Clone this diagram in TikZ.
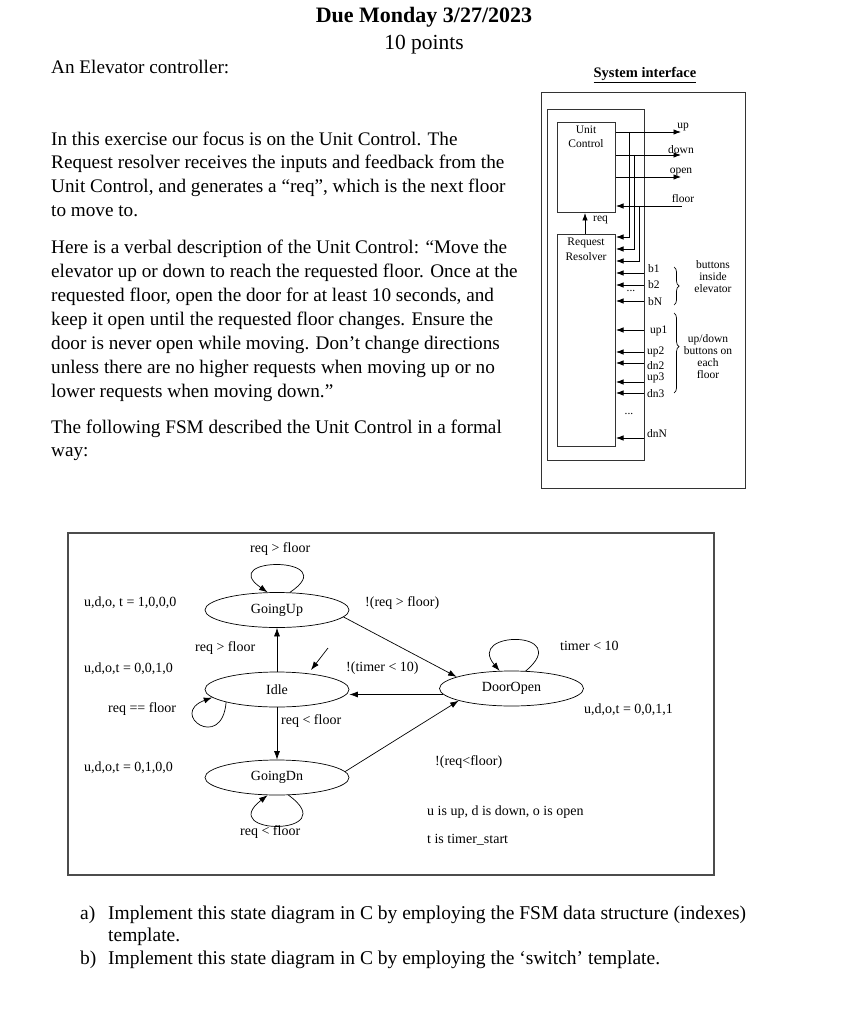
\documentclass[tikz,border=0pt]{standalone}
\usepackage{fontspec}
\setmainfont{Liberation Serif}
\usetikzlibrary{arrows.meta,shapes.geometric,decorations.pathreplacing,calc}
\begin{document}
\begin{tikzpicture}[x=1pt,y=-1pt,
  txt/.style={anchor=base west,inner sep=0pt,font=\fontsize{19.2}{24}\selectfont},
  qtxt/.style={anchor=base west,inner sep=0pt,font=\fontsize{19.5}{24}\selectfont},
  ftxt/.style={anchor=base west,inner sep=0pt,font=\fontsize{14}{16}\selectfont},
  stxt/.style={inner sep=0pt,font=\fontsize{11.5}{12.5}\selectfont},
  state/.style={ellipse,draw,line width=0.7pt,minimum width=144pt,minimum height=35pt,inner sep=0pt,font=\fontsize{14}{16}\selectfont},
  fedge/.style={line width=0.7pt,-{Latex[length=8.5pt,width=6pt]}},
  sedge/.style={line width=0.8pt,-{Latex[length=7.5pt,width=5.5pt]}},
  wire/.style={line width=0.8pt},
  blk/.style={draw=black!80,line width=1pt,inner sep=0pt},
]
\useasboundingbox (0,0) rectangle (854,1024);
\fill[white] (0,0) rectangle (854,1024);

% ---------- header ----------
\node[anchor=base,inner sep=0pt,font=\fontsize{22}{26}\selectfont\bfseries] (due) at (424,23) {Due Monday 3/27/2023};
\node[anchor=base,inner sep=0pt,font=\fontsize{21.5}{26}\selectfont] (pts) at (424,50) {10 points};
\node[txt] (t0) at (51,74) {An Elevator controller:};

\node[txt] (p11) at (51,146) {In this exercise our focus is on the Unit Control. The};
\node[txt] (p12) at (51,169) {Request resolver receives the inputs and feedback from the};
\node[txt] (p13) at (51,193) {Unit Control, and generates a “req”, which is the next floor};
\node[txt] (p14) at (51,217) {to move to.};

\node[txt] (p21) at (51,253) {Here is a verbal description of the Unit Control: “Move the};
\node[txt] (p22) at (51,277) {elevator up or down to reach the requested floor. Once at the};
\node[txt] (p23) at (51,301) {requested floor, open the door for at least 10 seconds, and};
\node[txt] (p24) at (51,325) {keep it open until the requested floor changes. Ensure the};
\node[txt] (p25) at (51,349) {door is never open while moving. Don’t change directions};
\node[txt] (p26) at (51,373) {unless there are no higher requests when moving up or no};
\node[txt] (p27) at (51,397) {lower requests when moving down.”};

\node[txt] (p31) at (51,433) {The following FSM described the Unit Control in a formal};
\node[txt] (p32) at (51,456) {way:};

% ---------- system interface ----------
\node[anchor=center,inner sep=0pt,font=\fontsize{14.5}{16}\selectfont\bfseries] (sit) at (645,75) {\underline{System interface}};
\draw[blk] (541,93) rectangle (745,488);
\draw[blk] (547,110) rectangle (644,460);
\node[blk,draw,anchor=north west,minimum width=58pt,minimum height=90pt] (UC) at (557,122) {};
\node[stxt] (ucl1) at (586,130) {Unit};
\node[stxt] (ucl2) at (586,144) {Control};
\node[blk,draw,anchor=north west,minimum width=58pt,minimum height=212pt] (RR) at (557,234) {};
\node[stxt] (rrl1) at (586,243) {Request};
\node[stxt] (rrl2) at (586,257) {Resolver};
\draw[sedge] (RR.north -| 585,0) -- (UC.south -| 585,0);
\node[stxt,anchor=west] (reql) at (593,220) {req};

\coordinate (oup) at (681,132);
\coordinate (odn) at (681,155);
\coordinate (oop) at (681,177);
\coordinate (ofl) at (682,206);
\draw[sedge] (UC.east |- oup) -- (oup);
\draw[sedge] (UC.east |- odn) -- (odn);
\draw[sedge] (UC.east |- oop) -- (oop);
\draw[sedge] (ofl) -- (UC.east |- ofl);
\node[stxt] (lup) at (683,127) {up};
\node[stxt] (ldn) at (681,150) {down};
\node[stxt] (lop) at (681,172) {open};
\node[stxt] (lfl) at (683,199) {floor};

\coordinate (tU) at (629,132);
\coordinate (tD) at (634,155);
\coordinate (tF) at (639,206);
\draw[sedge] (tU) |- (RR.east |- 0,237);
\draw[sedge] (tD) |- (RR.east |- 0,249);
\draw[sedge] (tF) |- (RR.east |- 0,261);

\foreach \y/\ly/\l/\lx in {273/269/b1/648, 285/285/b2/648, 301/302/bN/648,
  330/331/up1/650, 352/352/up2/647, 363/366/dn2/647, 382/378/up3/647, 393/394/dn3/647, 438/434/dnN/647}{
  \draw[sedge] (644,\y) -- (RR.east |- 0,\y);
  \node[stxt,anchor=west] at (\lx,\ly) {\l};
}
\node[stxt] (dots1) at (631,291) {...};
\node[stxt] (dots2) at (629,414) {...};

\draw[line width=0.7pt,decorate,decoration={brace,amplitude=5pt}] (674,267) -- (674,305);
\node[stxt,align=center] (bi) at (713,277) {buttons\\[-0.5pt]inside\\[-0.5pt]elevator};
\draw[line width=0.7pt,decorate,decoration={brace,amplitude=5pt,aspect=0.42}] (674,313) -- (674,393);
\node[stxt,align=center] (bo) at (708,357) {up/down\\[-0.5pt]buttons on\\[-0.5pt]each\\[-0.5pt]floor};

% ---------- FSM ----------
\draw[draw=black!70,line width=1.2pt] (68,533) rectangle (714,875);

\node[state] (GU) at (277,610) {GoingUp};
\node[state] (ID) at (277,689.5) {Idle};
\node[state] (GD) at (277,777.5) {GoingDn};
\node[state] (DO) at (511.5,688.5) {DoorOpen};

\draw[fedge] (GU.54) .. controls (345,556) and (215,556) .. (GU.118);
\draw[fedge] (GD.303) .. controls (345,836) and (215,836) .. (GD.242);
\draw[fedge] (DO.51) .. controls (575,630) and (465,630) .. (DO.124);
\draw[fedge] (ID.194) .. controls (222,752) and (168,714) .. (ID.187);

\draw[fedge] (ID.north) -- (GU.south);
\draw[fedge] (ID.south) -- (GD.north);
\draw[fedge] (GU.-6) -- (DO.168);
\draw[fedge] (DO.185) -- (DO.185 -| ID.east);
\draw[fedge] (GD.5) -- (DO.193);
\coordinate (init) at (328,648);
\draw[fedge] (init) -- (311,670);

\node[ftxt] at (250,552) {req > floor};
\node[ftxt] at (84,606) {u,d,o, t = 1,0,0,0};
\node[ftxt] at (365,606) {!(req > floor)};
\node[ftxt] at (195,651) {req > floor};
\node[ftxt] at (84,672) {u,d,o,t = 0,0,1,0};
\node[ftxt] at (346,671) {!(timer < 10)};
\node[ftxt] at (108,712) {req == floor};
\node[ftxt] at (281,724) {req < floor};
\node[ftxt] at (84,771) {u,d,o,t = 0,1,0,0};
\node[ftxt] at (240,835) {req < floor};
\node[ftxt] at (560,650) {timer < 10};
\node[ftxt] at (584,713) {u,d,o,t = 0,0,1,1};
\node[ftxt] at (435,765) {!(req<floor)};
\node[ftxt] at (427,815) {u is up, d is down, o is open};
\node[ftxt] at (427,843) {t is timer\_start};

% ---------- questions ----------
\node[qtxt] (qa) at (80,919) {a)};
\node[qtxt] (qa1) at (108,919) {Implement this state diagram in C by employing the FSM data structure (indexes)};
\node[qtxt] (qa2) at (108,941) {template.};
\node[qtxt] (qb) at (80,964) {b)};
\node[qtxt] (qb1) at (108,964) {Implement this state diagram in C by employing the ‘switch’ template.};
\end{tikzpicture}
\end{document}
